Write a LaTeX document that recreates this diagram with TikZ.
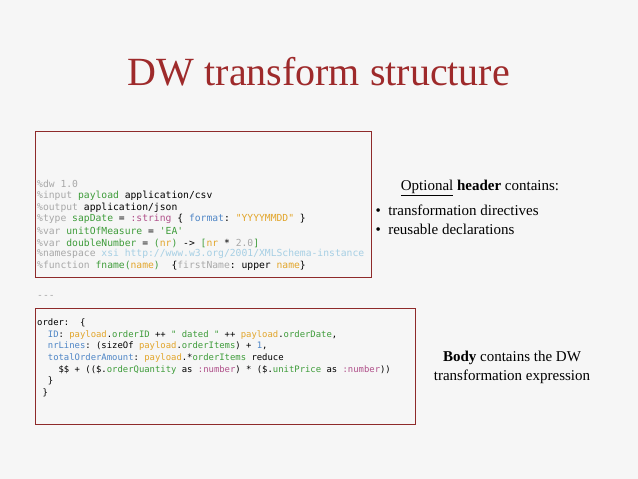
\documentclass[tikz,border=0pt]{standalone}
\usepackage{fontspec}
\setmainfont{Liberation Serif}
\setmonofont{DejaVu Sans Mono}
\usetikzlibrary{positioning}
\definecolor{titlered}{HTML}{9E2A2B}
\definecolor{boxred}{HTML}{8E2A2A}
\definecolor{cmt}{HTML}{A8A8A8}
\definecolor{kgreen}{HTML}{3E9C3A}
\definecolor{kblue}{HTML}{4F86C6}
\definecolor{korange}{HTML}{E2A52A}
\definecolor{kpurple}{HTML}{B0508A}
\definecolor{kurl}{HTML}{A6CFE4}
\newcommand{\cm}[1]{\textcolor{cmt}{#1}}
\newcommand{\kg}[1]{\textcolor{kgreen}{#1}}
\newcommand{\kb}[1]{\textcolor{kblue}{#1}}
\newcommand{\ko}[1]{\textcolor{korange}{#1}}
\newcommand{\kp}[1]{\textcolor{kpurple}{#1}}
\newcommand{\ku}[1]{\textcolor{kurl}{#1}}
\begin{document}
\begin{tikzpicture}[
                x=1pt, y=-1pt,
                codeline/.style = {
                    anchor = west,
                    inner sep = 0pt,
                    font = \fontsize{9.7}{11}\ttfamily
                },
                bodyline/.style = {
                    codeline,
                    font = \fontsize{8.9}{11}\ttfamily
                },
                codebox/.style = {
                    draw = boxred,
                    line width = 1pt
                },
                sidetext/.style = {
                    font = \fontsize{15}{19}\selectfont,
                    align = center
                }
            ]
            \fill[white!93!gray] (0,0) rectangle (638,479);
            \useasboundingbox (0,0) rectangle (638,479);
            \node[font=\fontsize{40}{44}\selectfont, text=titlered] (title) at (319,72) {DW transform structure};
            %
            \draw[codebox] (35,131) rectangle (371,277);
            \draw[codebox] (35,308) rectangle (415,424);
            %
            \node[codeline] (h1) at (37,184) {\cm{\%dw 1.0}};
            \node[codeline] (h2) at (37,196) {\cm{\%input} \kg{payload} application/csv};
            \node[codeline] (h3) at (37,208) {\cm{\%output} application/json};
            \node[codeline] (h4) at (37,219) {\cm{\%type} \kg{sapDate} = \kp{:string} \{ \kb{format}: \ko{"YYYYMMDD"} \}};
            \node[codeline] (h5) at (37,231) {\cm{\%var} \kg{unitOfMeasure} = \kg{'EA'}};
            \node[codeline] (h6) at (37,243) {\cm{\%var} \kg{doubleNumber} = \kg{(}\ko{nr}\kg{)} -> \kg{[}\ko{nr} * \cm{2.0}\kg{]}};
            \node[codeline] (h7) at (37,254) {\cm{\%namespace} \ku{xsi http://www.w3.org/2001/XMLSchema-instance}};
            \node[codeline] (h8) at (37,266) {\cm{\%function} \kg{fname(}\ko{name}\kg{)}\ \ \{\cm{firstName}: upper \ko{name}\}};
            %
            \node[codeline] (sep) at (37,297) {\cm{---}};
            %
            \node[bodyline] (b1) at (37,323) {order:\ \ \{};
            \node[bodyline] (b2) at (37,335) {\ \ \kb{ID}: \ko{payload}.\kg{orderID} ++ \kg{"\ dated\ "} ++ \ko{payload}.\kg{orderDate},};
            \node[bodyline] (b3) at (37,346) {\ \ \kb{nrLines}: (sizeOf \ko{payload}.\kg{orderItems}) + \kb{1},};
            \node[bodyline] (b4) at (37,358) {\ \ \kb{totalOrderAmount}: \ko{payload}.*\kg{orderItems} reduce};
            \node[bodyline] (b5) at (37,370) {\ \ \ \ \$\$ + ((\$.\kg{orderQuantity} as \kp{:number}) * (\$.\kg{unitPrice} as \kp{:number}))};
            \node[bodyline] (b6) at (37,381) {\ \ \}};
            \node[bodyline] (b7) at (37,393) {\ \}};
            %
            \node[sidetext] (opt) at (480,188) {\underline{Optional} \textbf{header} contains:};
            \node[sidetext, anchor=west] (bul1) at (372,210) {•\ \ transformation directives};
            \node[sidetext, anchor=west] (bul2) at (372,229) {•\ \ reusable declarations};
            \node[sidetext] (body) at (512,367) {\textbf{Body} contains the DW\\transformation expression};
        \end{tikzpicture}
\end{document}
